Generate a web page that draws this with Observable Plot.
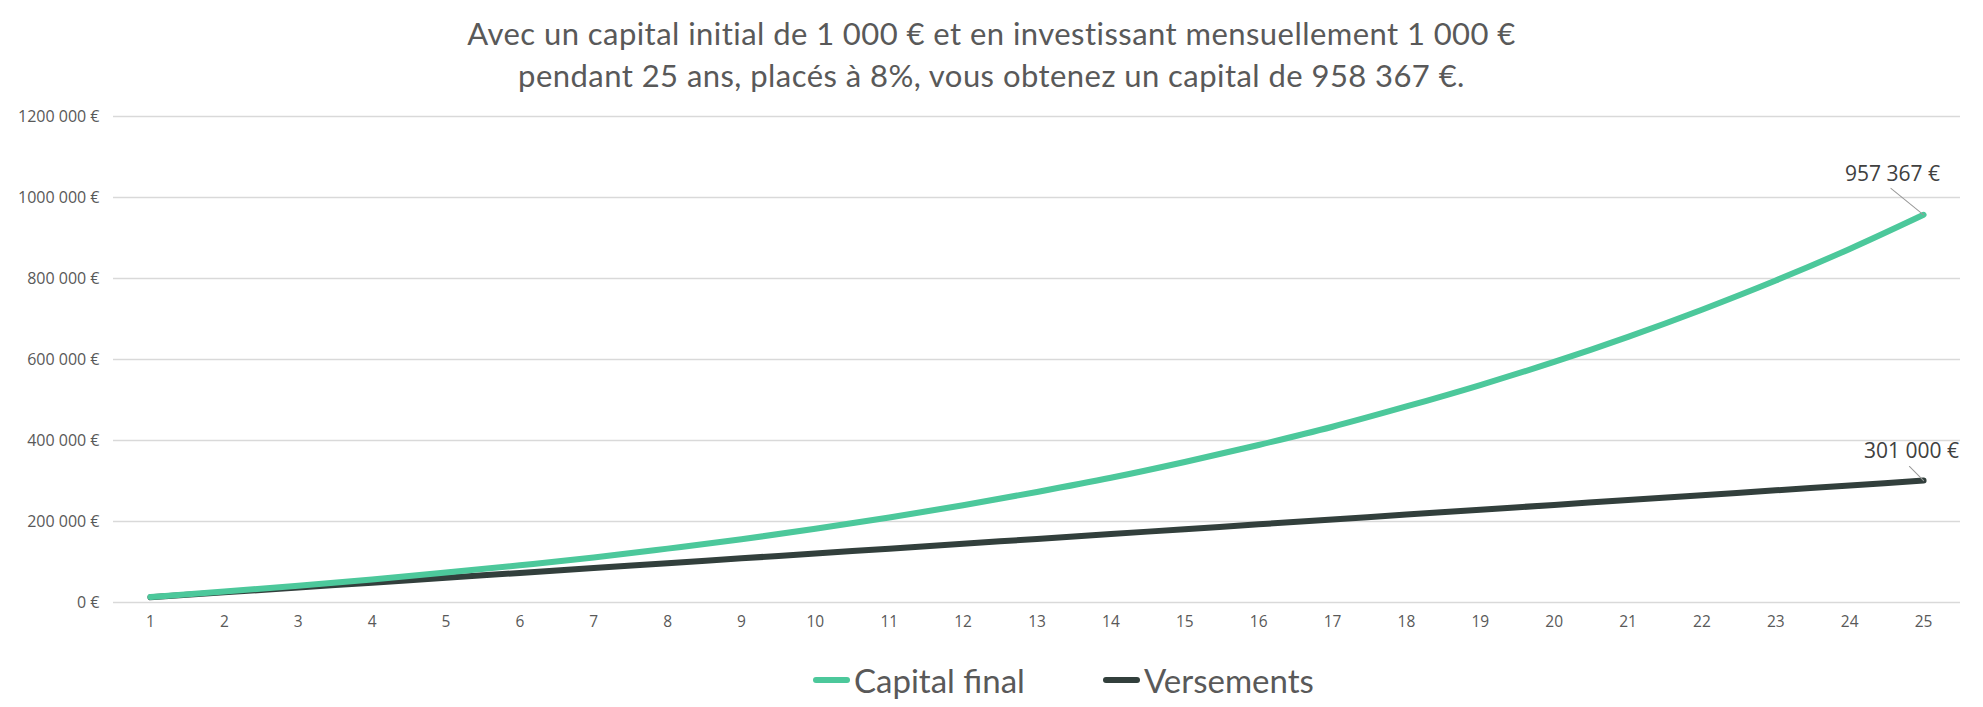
<!DOCTYPE html>
<html>
<head>
<meta charset="utf-8">
<script src="https://cdn.jsdelivr.net/npm/d3@7"></script>
<script src="https://cdn.jsdelivr.net/npm/@observablehq/plot@0.6"></script>
<style>
  html, body { margin: 0; padding: 0; background: #fff; }
  #wrap { position: relative; width: 1983px; height: 707px; overflow: hidden; }
  #title { position: absolute; left: 0; top: 12px; width: 1983px; text-align: center;
    font-family: Lato, "Open Sans", sans-serif; font-size: 31px; letter-spacing: 0.45px; line-height: 42px; color: #595959; }
  #chart { position: absolute; left: 0; top: 100px; }
  .leg { position: absolute; top: 661px; height: 38px; display: flex; align-items: center;
    font-family: Lato, sans-serif; font-size: 33px; color: #595959; }
  .sw { width: 37px; height: 6px; border-radius: 3px; margin-right: 4px; }
</style>
</head>
<body>
<div id="wrap">
  <div id="title">Avec un capital initial de 1&#8239;000 € et en investissant mensuellement 1&#8239;000 €<br>pendant 25 ans, placés à 8%, vous obtenez un capital de 958&#8239;367 €.</div>
  <div id="chart"></div>
  <div class="leg" style="left:813px"><div class="sw" style="background:#4cc89b"></div>Capital final</div>
  <div class="leg" style="left:1103px"><div class="sw" style="background:#323f3c"></div>Versements</div>
</div>
<script>
const years = d3.range(1, 26);
const capitalFinal = [13500, 27000, 41500, 57000, 74000, 92000, 111000, 133000, 156000, 182000,
  210000, 240000, 273000, 308000, 347000, 389000, 434000, 484000, 537000, 594000,
  656000, 723000, 795000, 873000, 957367];
const versements = [13000, 25000, 37000, 49000, 61000, 73000, 85000, 97000, 109000, 121000,
  133000, 145000, 157000, 169000, 181000, 193000, 205000, 217000, 229000, 241000,
  253000, 265000, 277000, 289000, 301000];
const yTicks = [0, 200000, 400000, 600000, 800000, 1000000, 1200000];
const yTickLabels = ["0 €", "200 000 €", "400 000 €", "600 000 €", "800 000 €", "1000 000 €", "1200 000 €"];
const endLabels = ["957 367 €", "301 000 €"];

const GREEN = "#4cc89b", DARK = "#323f3c";
const capData = years.map((y, i) => ({year: y, value: capitalFinal[i]}));
const verData = years.map((y, i) => ({year: y, value: versements[i]}));
const lastCap = capData[capData.length - 1];
const lastVer = verData[verData.length - 1];

const lineShape = {draw(ctx, l) { ctx.moveTo(0, 0); ctx.lineTo(0, -l); }};

const chart = Plot.plot({
  width: 1983,
  height: 550,
  marginTop: 16,
  marginBottom: 48,
  marginLeft: 113,
  marginRight: 23,
  style: {fontFamily: "'Open Sans', sans-serif", fontSize: "15px", color: "#595959", background: "transparent"},
  x: {domain: [0.5, 25.5], label: null},
  y: {domain: [0, 1200000], label: null},
  marks: [
    Plot.gridY(yTicks, {stroke: "#d9d9d9", strokeOpacity: 1, strokeWidth: 1.5}),
    Plot.axisY(yTicks, {tickSize: 0, tickPadding: 14, tickFormat: (d) => yTickLabels[yTicks.indexOf(d)], fontSize: 16, letterSpacing: 1.2, fill: "#595959"}),
    Plot.axisX(years, {tickSize: 0, tickPadding: 13, tickFormat: d => String(d), fontSize: 15.5, letterSpacing: 0.5, fill: "#595959"}),
    Plot.lineY(verData, {x: "year", y: "value", stroke: DARK, strokeWidth: 6, strokeLinecap: "round", strokeLinejoin: "round", curve: "monotone-x"}),
    Plot.lineY(capData, {x: "year", y: "value", stroke: GREEN, strokeWidth: 6, strokeLinecap: "round", strokeLinejoin: "round", curve: "monotone-x"}),
    Plot.vector([lastCap], {x: "year", y: "value", length: 42, rotate: -51, anchor: "start", shape: lineShape, stroke: "#999", strokeWidth: 1}),
    Plot.vector([lastVer], {x: "year", y: "value", length: 20, rotate: -45, anchor: "start", shape: lineShape, stroke: "#999", strokeWidth: 1}),
    Plot.text([lastCap], {x: "year", y: "value", text: () => endLabels[0], dx: -31, dy: -41, fontSize: 21, letterSpacing: 0.6, fill: "#404040", fontFamily: "'Open Sans', sans-serif"}),
    Plot.text([lastVer], {x: "year", y: "value", text: () => endLabels[1], dx: -12, dy: -29, fontSize: 21, letterSpacing: 0.2, fill: "#404040", fontFamily: "'Open Sans', sans-serif"})
  ]
});
document.getElementById("chart").appendChild(chart);
</script>
</body>
</html>
